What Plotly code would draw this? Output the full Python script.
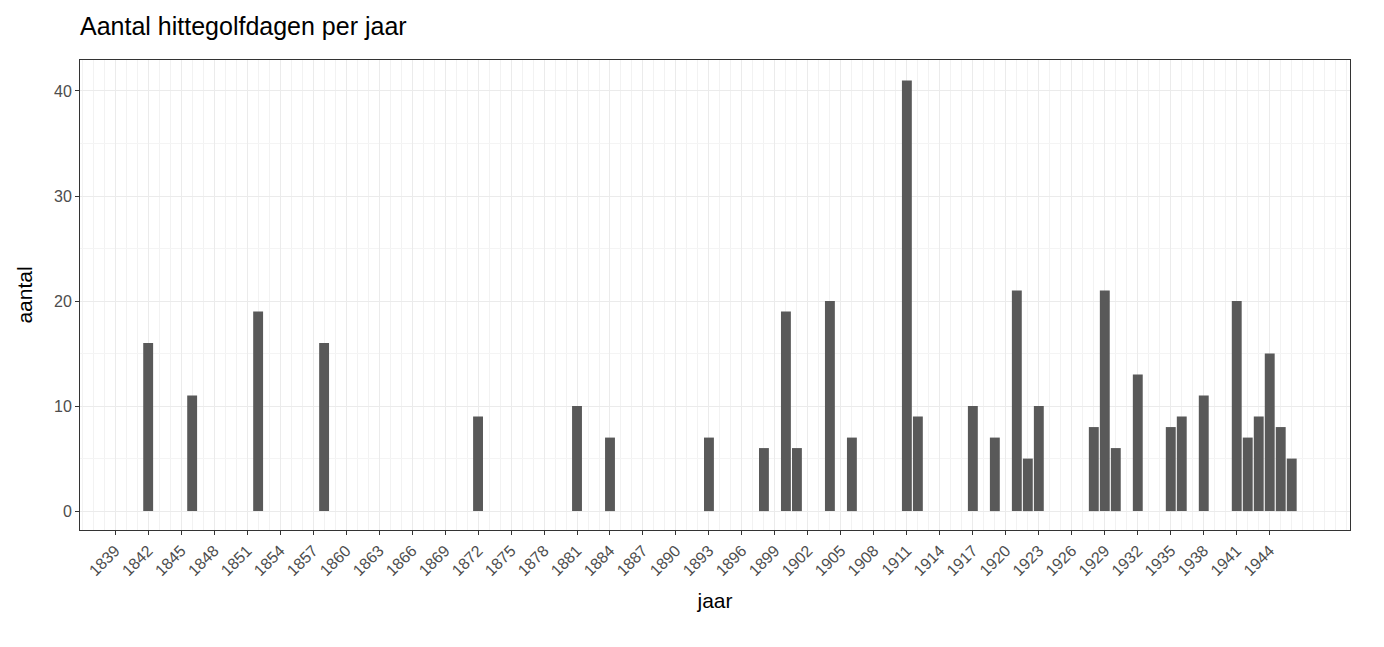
import plotly.graph_objects as go

years = [1842,1846,1852,1858,1872,1881,1884,1893,1898,1900,1901,1904,1906,1911,1912,1917,1919,1921,1922,1923,1928,1929,1930,1932,1935,1936,1938,1941,1942,1943,1944,1945,1946]
counts = [16,11,19,16,9,10,7,7,6,19,6,20,7,41,9,10,7,21,5,10,8,21,6,13,8,9,11,20,7,9,15,8,5]
tick_years = list(range(1839, 1945, 3))

fig = go.Figure(go.Bar(x=years, y=counts, width=0.9, marker=dict(color="#595959", line_width=0)))
fig.update_layout(
    width=1384, height=647, plot_bgcolor="white", paper_bgcolor="white",
    margin=dict(l=72, r=42, t=52, b=125),
    title=dict(text="Aantal hittegolfdagen per jaar", x=0, xref="paper", y=0.985, yanchor="top",
               font=dict(family="Liberation Sans, Arial", size=25, color="black")),
    font=dict(family="Liberation Sans, Arial"), showlegend=False,
)
fig.update_xaxes(range=[1835.8, 1951.3], tickvals=tick_years, ticktext=[str(t) for t in tick_years],
                 tickangle=-45, tickfont=dict(size=16, color="#4d4d4d"), ticks="outside", ticklen=4,
                 tickcolor="#333", showgrid=True, gridcolor="#ebebeb",
                 minor=dict(dtick=1, tick0=1839, showgrid=True, gridcolor="#f2f2f2"),
                 showline=True, linecolor="#333", mirror=True, zeroline=False,
                 title=dict(text="jaar", font=dict(size=21, color="black")))
fig.update_yaxes(range=[-1.8, 42.95], tickvals=[0,10,20,30,40], tickfont=dict(size=16, color="#4d4d4d"),
                 ticks="outside", ticklen=4, tickcolor="#333", showgrid=True, gridcolor="#ebebeb",
                 minor=dict(dtick=5, tick0=0, showgrid=True, gridcolor="#f4f4f4"),
                 showline=True, linecolor="#333", mirror=True, zeroline=False,
                 title=dict(text="aantal", font=dict(size=21, color="black")))
fig.write_html("out.html")
